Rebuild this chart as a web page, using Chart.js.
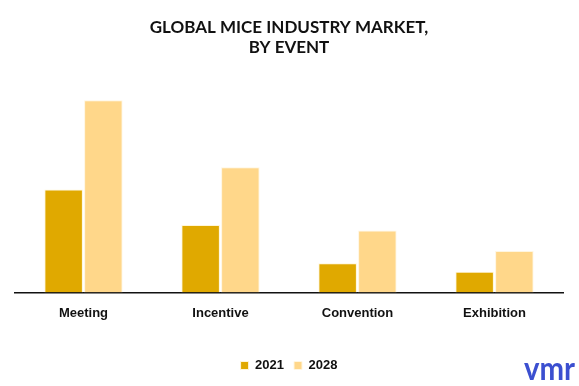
<!DOCTYPE html>
<html>
<head>
<meta charset="utf-8">
<script src="https://cdn.jsdelivr.net/npm/chart.js@4.4.1/dist/chart.umd.min.js"></script>
<style>
    html, body { margin: 0; padding: 0; background: #fff; }
    #wrap { width: 579px; height: 386px; position: relative; }
</style>
</head>
<body>
<div id="wrap"><canvas id="eventChart"></canvas></div>
<script>
const categories = ["Meeting", "Incentive", "Convention", "Exhibition"];
const seriesNames = ["2021", "2028"];
const values2021 = [102.7, 67.3, 29, 20.7];
const values2028 = [191.7, 124.7, 61.7, 41.3];

const gTitleFont = "Lato";
const gLabelFont = "Liberation Sans";

//Logo at the bottom right
const logoPlugin = {
    id: "logo",
    afterDraw(chart) {
        const ctx = chart.ctx;
        ctx.save();
        ctx.fillStyle = "#3b4fd0";
        ctx.font = "bold 32px " + gTitleFont;
        ctx.textAlign = "left";
        ctx.textBaseline = "alphabetic";
        ctx.fillText("vmr", 524, 380, 51);
        ctx.restore();
    }
};

let chart = new Chart(document.getElementById("eventChart").getContext("2d"), {
    type: "bar",
    data: {
        labels: categories,
        datasets: [{
            label: seriesNames[0],
            data: values2021,
            backgroundColor: "#e0a900",
            borderColor: "#fff6d8",
            borderWidth: 1
        }, {
            label: seriesNames[1],
            data: values2028,
            backgroundColor: "#ffd78a",
            borderColor: "#fff6e0",
            borderWidth: 1
        }]
    },
    options: {
        responsive: true,
        maintainAspectRatio: false,
        animation: false,
        layout: { padding: { left: 15, right: 16, top: 0, bottom: 4 } },
        categoryPercentage: 0.58,
        barPercentage: 0.97,
        plugins: {
            title: {
                display: true,
                text: ["GLOBAL MICE INDUSTRY MARKET,", "BY EVENT"],
                color: "#111",
                font: { family: gTitleFont, size: 17, weight: "bold", lineHeight: 1.17 },
                padding: { top: 18, bottom: 22 }
            },
            legend: {
                position: "bottom",
                labels: {
                    color: "#111",
                    boxWidth: 8,
                    boxHeight: 8,
                    padding: 10,
                    font: { family: gLabelFont, size: 13, weight: "bold" }
                }
            },
            tooltip: { enabled: false }
        },
        scales: {
            x: {
                grid: { display: false },
                border: { display: true, color: "#111", width: 1.5 },
                ticks: {
                    color: "#111",
                    padding: 5,
                    font: { family: gLabelFont, size: 13, weight: "bold" }
                },
                afterFit(scale) {
                    scale.height += 23;
                }
            },
            y: {
                display: false,
                min: 0,
                max: 212
            }
        }
    },
    plugins: [logoPlugin]
});
</script>
</body>
</html>
